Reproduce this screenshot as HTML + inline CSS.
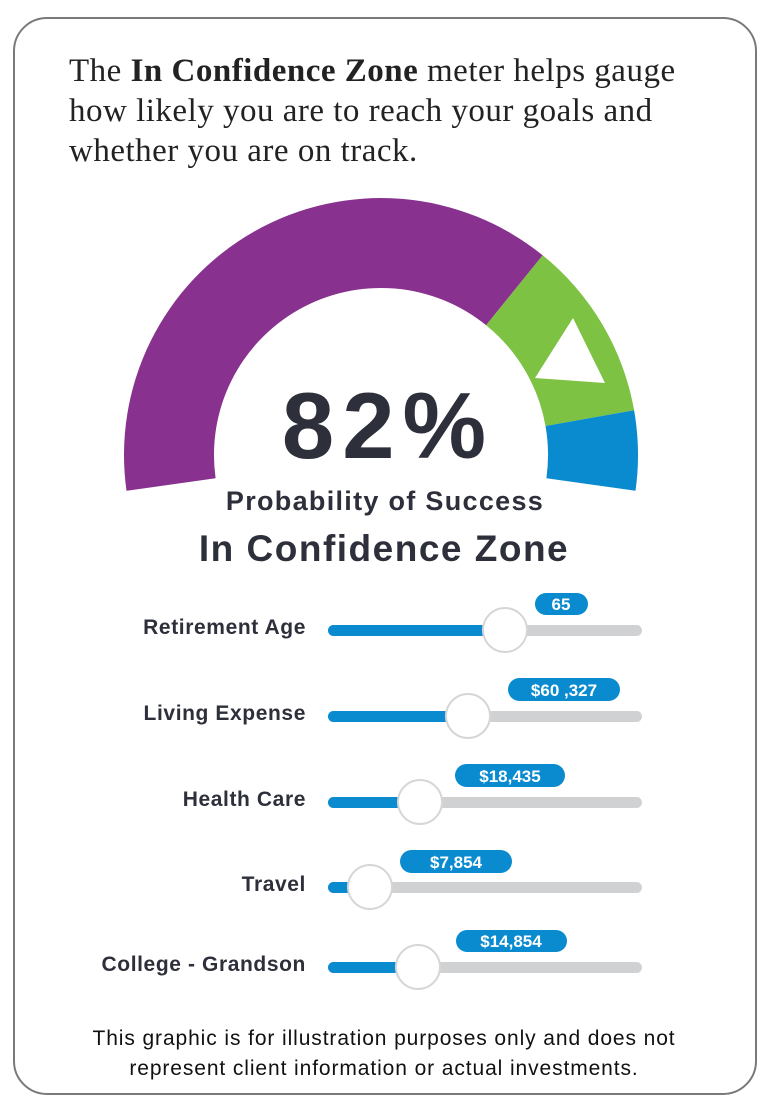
<!DOCTYPE html>
<html><head><style>
html,body{margin:0;padding:0;background:#fff;width:768px;height:1110px;overflow:hidden;}
.frame{position:absolute;left:13px;top:17px;width:740px;height:1074px;border:2px solid #7a7a7a;border-radius:34px;}
.hd{position:absolute;left:69px;top:51px;font-family:"Liberation Serif",serif;font-size:33px;letter-spacing:0.5px;line-height:40px;color:#222;white-space:nowrap;}
.lab{position:absolute;right:462px;font-family:"Liberation Sans",sans-serif;font-weight:bold;font-size:21px;letter-spacing:0.6px;color:#2d2f3a;}
.ft{position:absolute;left:0;width:768px;top:1024px;text-align:center;font-family:"Liberation Sans",sans-serif;font-size:21px;letter-spacing:0.9px;line-height:30px;color:#111;}
</style></head><body>
<div class="frame"></div>
<div class="hd">The <b>In Confidence Zone</b> meter helps gauge<br>how likely you are to reach your goals and<br>whether you are on track.</div>
<svg width="768" height="1110" style="position:absolute;left:0;top:0">
<path d="M126.5,490.8 A257,257 0 0 1 542.7,255.3 L486.1,325.2 A167,167 0 0 0 215.6,478.2 Z" fill="#88318f"/>
<path d="M542.7,255.3 A257,257 0 0 1 634.1,410.3 L545.5,426 A167,167 0 0 0 486.1,325.2 Z" fill="#7dc242"/>
<path d="M634.1,410.3 A257,257 0 0 1 635.5,490.8 L546.4,478.2 A167,167 0 0 0 545.5,426 Z" fill="#0a8bd0"/>
<polygon points="573,318 535,378 605,383" fill="#fff"/>
<text x="388" y="458" text-anchor="middle" font-family="Liberation Sans,sans-serif" font-weight="bold" font-size="94" letter-spacing="8" fill="#2d2f3a">82%</text>
<text x="385" y="510" text-anchor="middle" font-family="Liberation Sans,sans-serif" font-weight="bold" font-size="27" letter-spacing="1.3" fill="#2d2f3a">Probability of Success</text>
<text x="384" y="561" text-anchor="middle" font-family="Liberation Sans,sans-serif" font-weight="bold" font-size="37" letter-spacing="1.5" fill="#2d2f3a">In Confidence Zone</text>
<g font-family="Liberation Sans,sans-serif" font-weight="bold" font-size="17" fill="#fff" text-anchor="middle">
<rect x="328" y="625" width="314" height="11" rx="5.5" fill="#d0d1d3"/>
<rect x="328" y="625" width="177" height="11" rx="5.5" fill="#0a8bd0"/>
<circle cx="505" cy="630" r="22" fill="#fff" stroke="#d6d6d6" stroke-width="2"/>
<rect x="535" y="593" width="53" height="22" rx="11" fill="#0a8bd0"/><text x="561" y="610">65</text>
<rect x="328" y="711" width="314" height="11" rx="5.5" fill="#d0d1d3"/>
<rect x="328" y="711" width="140" height="11" rx="5.5" fill="#0a8bd0"/>
<circle cx="468" cy="716" r="22" fill="#fff" stroke="#d6d6d6" stroke-width="2"/>
<rect x="508" y="678" width="112" height="23" rx="11.5" fill="#0a8bd0"/><text x="564" y="696">$60 ,327</text>
<rect x="328" y="797" width="314" height="11" rx="5.5" fill="#d0d1d3"/>
<rect x="328" y="797" width="92" height="11" rx="5.5" fill="#0a8bd0"/>
<circle cx="420" cy="802" r="22" fill="#fff" stroke="#d6d6d6" stroke-width="2"/>
<rect x="455" y="764" width="110" height="23" rx="11.5" fill="#0a8bd0"/><text x="510" y="782">$18,435</text>
<rect x="328" y="882" width="314" height="11" rx="5.5" fill="#d0d1d3"/>
<rect x="328" y="882" width="42" height="11" rx="5.5" fill="#0a8bd0"/>
<circle cx="370" cy="887" r="22" fill="#fff" stroke="#d6d6d6" stroke-width="2"/>
<rect x="400" y="850" width="112" height="23" rx="11.5" fill="#0a8bd0"/><text x="456" y="868">$7,854</text>
<rect x="328" y="962" width="314" height="11" rx="5.5" fill="#d0d1d3"/>
<rect x="328" y="962" width="90" height="11" rx="5.5" fill="#0a8bd0"/>
<circle cx="418" cy="967" r="22" fill="#fff" stroke="#d6d6d6" stroke-width="2"/>
<rect x="456" y="930" width="111" height="22" rx="11" fill="#0a8bd0"/><text x="511" y="947">$14,854</text>
</g>
</svg>
<div class="lab" style="top:616px">Retirement Age</div>
<div class="lab" style="top:702px">Living Expense</div>
<div class="lab" style="top:788px">Health Care</div>
<div class="lab" style="top:873px">Travel</div>
<div class="lab" style="top:953px">College - Grandson</div>
<div class="ft">This graphic is for illustration purposes only and does not<br>represent client information or actual investments.</div>
</body></html>
